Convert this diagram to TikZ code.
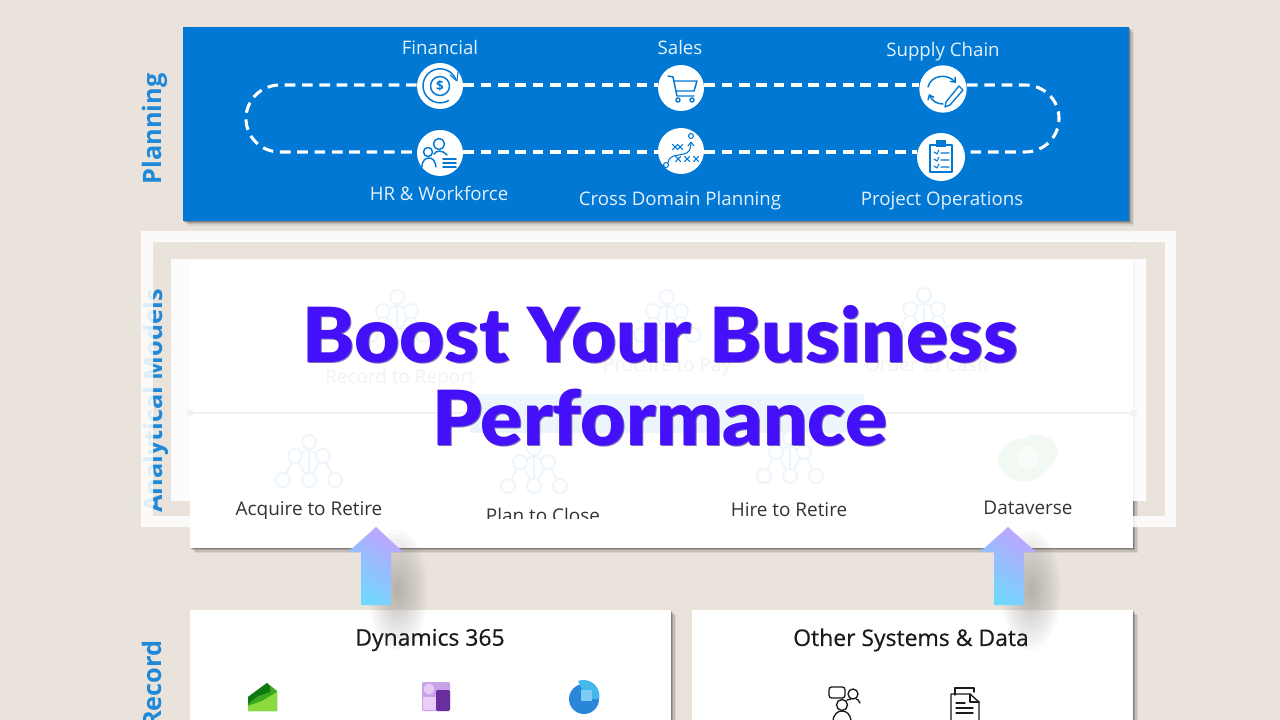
\documentclass[tikz,border=0pt]{standalone}
\usepackage{fontspec}
\usetikzlibrary{arrows.meta}
\setmainfont{Open Sans}
\newfontfamily\titlefont[FakeStretch=1.03]{Lato Black}
\newfontfamily\headfont[FakeBold=0.5]{Open Sans}
\definecolor{bgc}{HTML}{E9E3DC}
\definecolor{planblue}{HTML}{0078D4}
\definecolor{labblue}{HTML}{1F88D8}
\definecolor{titlec}{HTML}{4410FA}
\definecolor{fadeb}{HTML}{EDF5FC}
\definecolor{fadet}{HTML}{F2F2F2}
\definecolor{darkt}{HTML}{333333}
\definecolor{heart}{HTML}{1A1A1A}
\definecolor{arrowbot}{HTML}{6FD8FD}
\definecolor{arrowtop}{HTML}{BFA4FF}
\definecolor{gmid}{HTML}{3DAA1E}
\definecolor{gdark}{HTML}{0E7A14}
\definecolor{glime}{HTML}{8ADB3F}
\definecolor{pmid}{HTML}{C8A2E8}
\definecolor{pdark}{HTML}{6A2E9E}
\definecolor{plight}{HTML}{E6C8F4}
\definecolor{plighter}{HTML}{EBCDF7}
\definecolor{bdisc}{HTML}{2A86D8}
\definecolor{bslice}{HTML}{45B8EE}
\definecolor{bsquare}{HTML}{7FCBF2}
\tikzset{
  x=0.75pt,y=-0.75pt,
  whitelab/.style={text=white!90!planblue,font=\fontsize{14pt}{17pt}\selectfont,inner sep=0pt,anchor=center},
  sidelab/.style={text=labblue,font=\fontsize{19pt}{22pt}\selectfont\bfseries,inner sep=0pt,rotate=90,anchor=center},
  modlab/.style={text=darkt,font=\fontsize{14.2pt}{17pt}\selectfont,inner sep=0pt,anchor=center},
  faintlab/.style={text=fadet,font=\fontsize{14.2pt}{17pt}\selectfont,inner sep=0pt,anchor=center},
  headlab/.style={text=heart,font=\headfont\fontsize{17.2pt}{20pt}\selectfont,inner sep=0pt,anchor=center},
  circnode/.style={circle,fill=white,minimum size=34.5pt,inner sep=0pt},
  loopline/.style={draw=white,line width=2.3pt,dash pattern=on 8pt off 5pt},
  iconline/.style={draw=planblue,line width=0.8pt,line cap=round,line join=round},
  treeline/.style={draw=fadeb,line width=1.3pt},
  titletext/.style={font=\titlefont\fontsize{57pt}{60pt}\selectfont,inner sep=0pt,anchor=base},
  blackicon/.style={draw=heart,line width=1pt,line cap=round,line join=round},
  arrowshade/.style={bottom color=arrowbot,top color=arrowtop,shading angle=-35},
}
\newcommand{\softshadow}[4]{% x1,y1,x2,y2
  \foreach \d/\o in {5/0.10,3.5/0.15,2/0.25,1/0.35}{
    \fill[black!70!bgc,opacity=\o] (#1+\d,#2+\d) rectangle (#3+\d,#4+\d);
  }
}
\newcommand{\treeicon}[2]{%
  \begin{scope}[shift={(#1,#2)}]
    \draw[treeline] (0,8)--(0,38) (0,8)--(-14,14) (0,8)--(14,14) (-14,14)--(-26,38) (14,14)--(26,38) (-14,14)--(0,38) (14,14)--(0,38);
    \foreach \p in {(0,0),(-14,14),(14,14),(-26,38),(0,38),(26,38)}{
      \draw[treeline,fill=white] \p circle[radius=7];
    }
  \end{scope}}
\newcommand{\glowat}[2]{%
  \foreach \r in {2,4,...,30}{
    \fill[black!55!bgc,opacity=0.028] (#1,#2) ellipse[x radius=\r,y radius=\r*2];
  }}
\begin{document}
\begin{tikzpicture}
\useasboundingbox (0,0) rectangle (1280,720);
\fill[bgc] (0,0) rectangle (1280,720);

% Planning band
\softshadow{183}{27}{1129}{221}
\fill[planblue] (183,27) rectangle (1129,221);
\node[sidelab] (planlab) at (155,129) {Planning};

% Icon discs
\node[circnode] (fin) at (440,86) {};
\node[circnode] (sal) at (681,88) {};
\node[circnode,minimum size=35.5pt] (sup) at (943,89) {};
\node[circnode] (hr) at (440,153) {};
\node[circnode] (crs) at (681,151) {};
\node[circnode,minimum size=36pt] (prj) at (941,157) {};
\coordinate (lt) at (280,85);
\coordinate (lb) at (280,152);
\coordinate (lm) at (246,118.5);
\coordinate (rt) at (1025,85);
\coordinate (rb) at (1025,152);
\coordinate (rm) at (1059,118.5);
\draw[loopline] (fin.west |- lt) -- (lt) .. controls (261,85) and (246,100) .. (lm) .. controls (246,137) and (261,152) .. (lb) -- (hr.west |- lb);
\draw[loopline] (fin.east |- lt) -- (sal.west |- lt);
\draw[loopline] (sal.east |- lt) -- (sup.west |- lt);
\draw[loopline] (sup.east |- rt) -- (rt) .. controls (1044,85) and (1059,100) .. (rm) .. controls (1059,137) and (1044,152) .. (rb) -- (prj.east |- rb);
\draw[loopline] (hr.east |- lb) -- (crs.west |- lb);
\draw[loopline] (crs.east |- lb) -- (prj.west |- lb);

% Financial icon
\begin{scope}[shift={(fin.center)}]
  \draw[iconline,line width=1.1pt] (0,0) circle[radius=9.5];
  \draw[iconline,line width=1.1pt] (16,-6) arc[start angle=-20,end angle=-300,radius=17];
  \draw[iconline] (10,-11) -- (17,-5) -- (18,-14);
  \node[text=planblue,font=\fontsize{10pt}{10pt}\selectfont\bfseries,inner sep=0pt] (finsym) at (0,0) {\$};
\end{scope}
% Sales icon
\begin{scope}[shift={(sal.center)}]
  \draw[iconline,line width=1.1pt] (-13,-12) -- (-8,-11) -- (-4,8) -- (13,8);
  \draw[iconline,line width=1.1pt] (-7,-7) -- (16,-7) -- (13,3) -- (-5,3);
  \draw[iconline,line width=1.1pt] (-3,12) circle[radius=2] (11,12) circle[radius=2];
\end{scope}
% Supply chain icon
\begin{scope}[shift={(sup.center)}]
  \draw[iconline,line width=1.1pt,-{Straight Barb[length=3pt,width=5pt]}] (-15,-2) .. controls (-12,-14) and (4,-16) .. (13,-6);
  \draw[iconline,line width=1.1pt,-{Straight Barb[length=3pt,width=5pt]}] (0,15) .. controls (-6,15) and (-11,12) .. (-14,5);
  \draw[iconline,line width=1pt] (3,13) -- (16,-3) -- (20,1) -- (7,16) -- (2,18) -- cycle;
\end{scope}
% HR icon
\begin{scope}[shift={(hr.center)}]
  \draw[iconline,line width=1.1pt] (-1,-9) circle[radius=5.5] (-12,-1) circle[radius=4.5];
  \draw[iconline,line width=1.1pt] (-18,14) .. controls (-18,7) and (-14,5) .. (-11,5) .. controls (-8,5) and (-5,7) .. (-4,14);
  \draw[iconline,line width=1.1pt] (-6,1) .. controls (-4,-3) and (3,-3) .. (7,2);
  \draw[iconline,line width=1.2pt] (3,6)--(16,6) (3,10)--(16,10) (3,14)--(16,14);
\end{scope}
% Cross-domain icon
\begin{scope}[shift={(crs.center)}]
  \foreach \a/\b in {-6/-4,-3/8,6/8,15/8,-1/-4}{
    \draw[iconline] (\a-2.5,\b-2.5) -- (\a+2.5,\b+2.5) (\a-2.5,\b+2.5) -- (\a+2.5,\b-2.5);
  }
  \draw[iconline] (10,-15) circle[radius=2.5] (-15,14) circle[radius=2.5];
  \draw[iconline] (-13,12) .. controls (-12,4) and (-6,5) .. (3,3) .. controls (8,2) and (10,-2) .. (10,-8);
  \draw[iconline] (7,-5) -- (10,-9) -- (13,-5);
\end{scope}
% Project icon
\begin{scope}[shift={(prj.center)}]
  \draw[iconline,line width=1.1pt] (-11,-12) rectangle (11,15);
  \fill[planblue] (-5,-17) rectangle (5,-10);
  \draw[iconline] (-7,-5) -- (-4,-3) -- (-2,-7) (0,-4) -- (8,-4);
  \draw[iconline] (-7,2) -- (-4,4) -- (-2,0) (0,3) -- (8,3);
  \draw[iconline] (-7,9) -- (-4,11) -- (-2,7) (0,10) -- (8,10);
\end{scope}

\node[whitelab] (l1) at (440,48) {Financial};
\node[whitelab] (l2) at (680,48) {Sales};
\node[whitelab] (l3) at (943,52) {Supply Chain};
\node[whitelab] (l4) at (439,193) {HR \& Workforce};
\node[whitelab] (l5) at (680,201) {Cross Domain Planning};
\node[whitelab] (l6) at (942,201) {Project Operations};

% Analytical panel
\softshadow{190}{240}{1133}{548}
\fill[white] (190,240) rectangle (1133,548);
\node[sidelab] (anlab) at (156,401) {Analytical Models};

% translucent frame of the overlay
\fill[white,opacity=0.85,even odd rule] (141,231) rectangle (1176,527) (153,242) rectangle (1165,516);
\fill[bgc] (153,242) rectangle (1165,259);
\fill[white,opacity=0.92] (171,259) rectangle (1146,501);

% Faded contents
\draw[draw=fadet,line width=1pt] (190,413) -- (1133,413);
\fill[fadet] (190,413) circle[radius=3.5] (1133,413) circle[radius=3.5];
\fill[fadeb] (470,394) rectangle (864,433);
\treeicon{397}{297}\treeicon{667}{297}\treeicon{924}{295}
\treeicon{309}{442}\treeicon{534}{448}\treeicon{790}{438}
\fill[green!30!gray!8!white] (1024,460) ellipse[x radius=26,y radius=21];
\fill[green!30!gray!8!white] (1037,452) ellipse[x radius=21,y radius=17];
\fill[green!25!gray!3!white] (1028,457) circle[radius=11];
\node[faintlab] (f1) at (400,379) {Record to Report};
\node[faintlab] (f2) at (667,367) {Procure to Pay};
\node[faintlab] (f3) at (927,364) {Order to Cash};

% Clear labels, cut off at the overlay edge
\begin{scope}
  \clip (190,499) rectangle (1133,518.5);
  \node[modlab] (m1) at (309,511) {Acquire to Retire};
  \node[modlab] (m2) at (543,515) {Plan to Close};
  \node[modlab] (m3) at (789,510) {Hire to Retire};
  \node[modlab] (m4) at (1028,508) {Dataverse};
\end{scope}

% Record panels
\softshadow{190}{610}{671}{730}
\softshadow{692}{610}{1133}{730}
\fill[white] (190,610) rectangle (671,730);
\fill[white] (692,610) rectangle (1133,730);
\begin{scope}
  \clip (130,600) rectangle (180,720);
  \node[sidelab,anchor=west] (reclab) at (152,728) {Record};
\end{scope}
\node[headlab] (h1) at (430,640) {Dynamics 365};
\node[headlab] (h2) at (911,640) {Other Systems \& Data};

% Soft glows and arrows
\glowat{398}{590}
\glowat{1031}{590}
\shade[arrowshade] (361,605) -- (361,552) -- (348,552) -- (376,527) -- (403,552) -- (391,552) -- (391,605) -- cycle;
\shade[arrowshade] (994,605) -- (994,552) -- (980,552) -- (1008,527) -- (1036,552) -- (1024,552) -- (1024,605) -- cycle;

% Dynamics icons
\fill[gmid] (248,711) -- (248,697) -- (267,683) -- (277,691) -- (277,711) -- cycle;
\fill[gdark] (248,704) -- (248,697) -- (267,683) -- (270,686) -- (270,692) -- (258,696) -- cycle;
\fill[glime] (248,711) -- (248,706) -- (262,701) -- (277,692) -- (277,711) -- cycle;
\fill[pmid,rounded corners=1pt] (422,682) rectangle (450,711);
\fill[pdark,rounded corners=1pt] (436,690) rectangle (450,711);
\fill[plight] (429,689) circle[radius=5.5];
\fill[plighter] (423,697) rectangle (436,710);
\fill[bdisc] (584,699) circle[radius=15];
\fill[bslice] (586,699) -- (578,681) arc[start angle=-110,end angle=10,radius=16] -- cycle;
\fill[bsquare] (581,690) rectangle (592,701);

% Other systems icons
\begin{scope}[blackicon]
  \draw[rounded corners=2pt] (829,687) rectangle (845,698);
  \draw (853,694) circle[radius=5];
  \draw (842,705) circle[radius=5.5];
  \draw (847,700) -- (851,699);
  \draw (860,703) .. controls (859,700) and (857,699) .. (856,699);
  \draw (833,722) .. controls (833,714) and (838,711) .. (842,711) .. controls (846,711) and (851,714) .. (851,722);
  \draw (955,695) -- (955,688) -- (974,688) -- (974,692);
  \draw (951,694) -- (970,694) -- (979,702) -- (979,722) -- (951,722) -- cycle;
  \draw (970,694) -- (970,702) -- (979,702);
  \draw (956,703) -- (965,703) (956,708) -- (973,708) (956,713) -- (973,713);
\end{scope}

% Title
\begin{scope}[shift={(1,1.2)}]
  \node[titletext,text=titlec!55!black,opacity=0.6] (ts1) at (660,362) {Boost Your Business};
  \node[titletext,text=titlec!55!black,opacity=0.6] (ts2) at (660,445) {Performance};
\end{scope}
\node[titletext,text=titlec] (t1) at (660,362) {Boost Your Business};
\node[titletext,text=titlec] (t2) at (660,445) {Performance};
\end{tikzpicture}
\end{document}
